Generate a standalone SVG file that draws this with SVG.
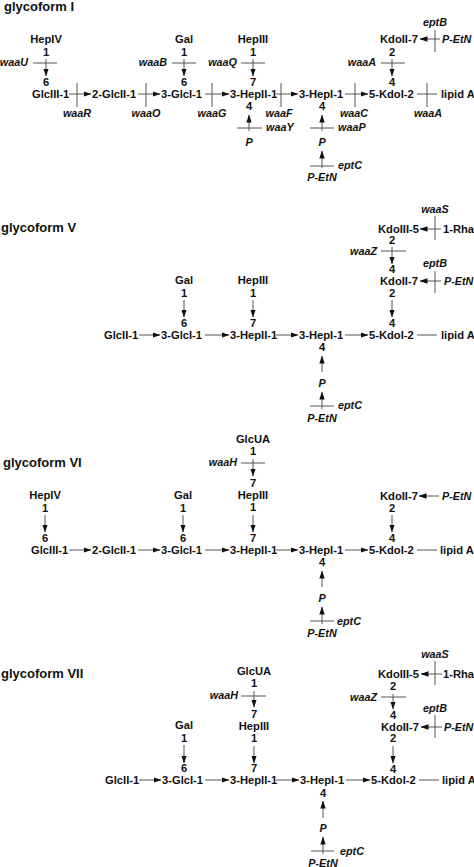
<svg xmlns="http://www.w3.org/2000/svg" width="474" height="867" viewBox="0 0 474 867">
<defs>
<style>
text{font-family:"Liberation Sans",Arial,Helvetica,sans-serif;font-weight:bold;font-size:11.2px;fill:#111}
.m{text-anchor:middle}
.e{text-anchor:end}
.i{font-style:italic;font-size:10.8px}
.ttl{font-size:13px}
line{stroke:#555;stroke-width:1}
.a{marker-end:url(#ah)}
</style>
<marker id="ah" markerWidth="8" markerHeight="6" refX="7.5" refY="3" orient="auto" markerUnits="userSpaceOnUse"><path d="M0,0.3 L8,3 L0,5.7 z" fill="#111"/></marker>
</defs>
<rect width="474" height="867" fill="#fff"/>

<!-- glycoform I -->
<g id="glycoform-I" transform="translate(0,94)">
<text class="ttl" x="4" y="-83">glycoform I</text>
<g id="I-HepIV"><text class="m" x="46" y="-51">HepIV</text><text class="m" x="46" y="-38">1</text></g>
<g id="I-GlcIII"><text class="m" x="46" y="-8">6</text><text x="32" y="4">GlcIII-1</text></g>
<g id="I-GlcII"><text x="92" y="4">2-GlcII-1</text></g>
<g id="I-Gal"><text class="m" x="184" y="-51">Gal</text><text class="m" x="184" y="-38">1</text></g>
<g id="I-GlcI"><text class="m" x="184" y="-8">6</text><text x="161" y="4">3-GlcI-1</text></g>
<g id="I-HepIII"><text class="m" x="253" y="-51">HepIII</text><text class="m" x="253" y="-38">1</text></g>
<g id="I-HepII"><text class="m" x="253" y="-8">7</text><text x="230" y="4">3-HepII-1</text><text class="m" x="249" y="16">4</text></g>
<g id="I-P1"><text class="m i" x="249" y="52">P</text></g>
<g id="I-HepI"><text x="299" y="4">3-HepI-1</text><text class="m" x="322" y="16">4</text></g>
<g id="I-P2"><text class="m i" x="322" y="52">P</text></g>
<g id="I-PEtN1"><text class="m i" x="322" y="87">P-EtN</text></g>
<g id="I-KdoI"><text class="m" x="392" y="-8">4</text><text x="369" y="4">5-KdoI-2</text></g>
<g id="I-KdoII"><text x="380" y="-51">KdoII-7</text><text class="m" x="392" y="-38">2</text></g>
<g id="I-PEtN2"><text class="i" x="442" y="-51">P-EtN</text></g>
<g id="I-lipidA"><text x="441" y="4">lipid A</text></g>
<g id="I-connectors">
<line class="a" x1="46" y1="-35" x2="46" y2="-18"/><line x1="33" y1="-31" x2="57" y2="-31"/><text class="e i" x="28" y="-28">waaU</text>
<line class="a" x1="69" y1="0" x2="91" y2="0"/><line x1="77" y1="-11" x2="77" y2="13"/><text class="m i" x="77" y="23">waaR</text>
<line class="a" x1="138" y1="0" x2="160" y2="0"/><line x1="146" y1="-11" x2="146" y2="13"/><text class="m i" x="146" y="23">waaO</text>
<line class="a" x1="184" y1="-35" x2="184" y2="-18"/><line x1="172" y1="-31" x2="196" y2="-31"/><text class="e i" x="167" y="-28">waaB</text>
<line class="a" x1="205" y1="0" x2="229" y2="0"/><line x1="212" y1="-11" x2="212" y2="13"/><text class="m i" x="212" y="23">waaG</text>
<line class="a" x1="253" y1="-35" x2="253" y2="-18"/><line x1="241" y1="-31" x2="265" y2="-31"/><text class="e i" x="237" y="-28">waaQ</text>
<line class="a" x1="249" y1="37" x2="249" y2="21"/><line x1="237" y1="34" x2="262" y2="34"/><text class="i" x="266" y="37">waaY</text>
<line class="a" x1="276" y1="0" x2="298" y2="0"/><line x1="281" y1="-11" x2="281" y2="13"/><text class="m i" x="279" y="23">waaF</text>
<line class="a" x1="322" y1="37" x2="322" y2="21"/><line x1="310" y1="34" x2="334" y2="34"/><text class="i" x="338" y="37">waaP</text>
<line class="a" x1="322" y1="74" x2="322" y2="57"/><line x1="310" y1="72" x2="334" y2="72"/><text class="i" x="338" y="75">eptC</text>
<line class="a" x1="345" y1="0" x2="368" y2="0"/><line x1="355" y1="-11" x2="355" y2="13"/><text class="m i" x="354" y="23">waaC</text>
<line class="a" x1="392" y1="-35" x2="392" y2="-18"/><line x1="381" y1="-31" x2="405" y2="-31"/><text class="e i" x="376" y="-28">waaA</text>
<line x1="417" y1="0" x2="437" y2="0"/><line x1="427" y1="-11" x2="427" y2="13"/><text class="m i" x="428" y="23">waaA</text>
<line class="a" x1="440" y1="-55" x2="420" y2="-55"/><line x1="435" y1="-64" x2="435" y2="-42"/><text class="m i" x="435" y="-68">eptB</text>
</g>
</g>

<!-- glycoform V -->
<g id="glycoform-V" transform="translate(0,335)">
<text class="ttl" x="1" y="-103">glycoform V</text>
<g id="V-GlcII"><text x="104" y="4">GlcII-1</text></g>
<g id="V-Gal"><text class="m" x="184" y="-51">Gal</text><text class="m" x="184" y="-38">1</text></g>
<g id="V-GlcI"><text class="m" x="184" y="-8">6</text><text x="161" y="4">3-GlcI-1</text></g>
<g id="V-HepIII"><text class="m" x="253" y="-51">HepIII</text><text class="m" x="253" y="-38">1</text></g>
<g id="V-HepII"><text class="m" x="253" y="-8">7</text><text x="230" y="4">3-HepII-1</text></g>
<g id="V-HepI"><text x="299" y="4">3-HepI-1</text><text class="m" x="322" y="16">4</text></g>
<g id="V-P"><text class="m i" x="322" y="52">P</text></g>
<g id="V-PEtN1"><text class="m i" x="322" y="87">P-EtN</text></g>
<g id="V-KdoI"><text class="m" x="392" y="-8">4</text><text x="369" y="4">5-KdoI-2</text></g>
<g id="V-KdoII"><text class="m" x="392" y="-62">4</text><text x="380" y="-50">KdoII-7</text><text class="m" x="392" y="-38">2</text></g>
<g id="V-KdoIII"><text x="378" y="-102">KdoIII-5</text><text class="m" x="392" y="-91">2</text></g>
<g id="V-Rha"><text x="443" y="-102">1-Rha</text></g>
<g id="V-PEtN2"><text class="i" x="444" y="-50">P-EtN</text></g>
<g id="V-lipidA"><text x="441" y="4">lipid A</text></g>
<g id="V-connectors">
<line class="a" x1="139" y1="0" x2="160" y2="0"/>
<line class="a" x1="184" y1="-35" x2="184" y2="-18"/>
<line class="a" x1="205" y1="0" x2="229" y2="0"/>
<line class="a" x1="253" y1="-35" x2="253" y2="-18"/>
<line class="a" x1="276" y1="0" x2="298" y2="0"/>
<line class="a" x1="322" y1="37" x2="322" y2="21"/>
<line class="a" x1="322" y1="74" x2="322" y2="57"/><line x1="310" y1="71" x2="334" y2="71"/><text class="i" x="338" y="74">eptC</text>
<line class="a" x1="345" y1="0" x2="368" y2="0"/>
<line x1="417" y1="0" x2="437" y2="0"/>
<line class="a" x1="392" y1="-35" x2="392" y2="-18"/>
<line class="a" x1="392" y1="-88" x2="392" y2="-71"/><line x1="381" y1="-84" x2="406" y2="-84"/><text class="e i" x="377" y="-80">waaZ</text>
<line class="a" x1="441" y1="-54" x2="420" y2="-54"/><line x1="435" y1="-64" x2="435" y2="-42"/><text class="m i" x="435" y="-68">eptB</text>
<line class="a" x1="441" y1="-106" x2="420" y2="-106"/><line x1="435" y1="-119" x2="435" y2="-95"/><text class="m i" x="435" y="-122">waaS</text>
</g>
</g>

<!-- glycoform VI -->
<g id="glycoform-VI" transform="translate(0,550)">
<text class="ttl" x="3" y="-83">glycoform VI</text>
<g id="VI-HepIV"><text class="m" x="45" y="-51">HepIV</text><text class="m" x="45" y="-38">1</text></g>
<g id="VI-GlcIII"><text class="m" x="45" y="-8">6</text><text x="31" y="4">GlcIII-1</text></g>
<g id="VI-GlcII"><text x="92" y="4">2-GlcII-1</text></g>
<g id="VI-Gal"><text class="m" x="183" y="-51">Gal</text><text class="m" x="183" y="-38">1</text></g>
<g id="VI-GlcI"><text class="m" x="183" y="-8">6</text><text x="161" y="4">3-GlcI-1</text></g>
<g id="VI-GlcUA"><text class="m" x="253" y="-107">GlcUA</text><text class="m" x="253" y="-95">1</text></g>
<g id="VI-HepIII"><text class="m" x="253" y="-63">7</text><text class="m" x="253" y="-51">HepIII</text><text class="m" x="253" y="-39">1</text></g>
<g id="VI-HepII"><text class="m" x="253" y="-8">7</text><text x="230" y="4">3-HepII-1</text></g>
<g id="VI-HepI"><text x="299" y="4">3-HepI-1</text><text class="m" x="322" y="16">4</text></g>
<g id="VI-P"><text class="m i" x="322" y="52">P</text></g>
<g id="VI-PEtN1"><text class="m i" x="322" y="87">P-EtN</text></g>
<g id="VI-KdoI"><text class="m" x="392" y="-8">4</text><text x="369" y="4">5-KdoI-2</text></g>
<g id="VI-KdoII"><text x="380" y="-50">KdoII-7</text><text class="m" x="392" y="-38">2</text></g>
<g id="VI-PEtN2"><text class="i" x="442" y="-50">P-EtN</text></g>
<g id="VI-lipidA"><text x="440" y="4">lipid A</text></g>
<g id="VI-connectors">
<line class="a" x1="45" y1="-35" x2="45" y2="-18"/>
<line class="a" x1="69" y1="0" x2="91" y2="0"/>
<line class="a" x1="138" y1="0" x2="160" y2="0"/>
<line class="a" x1="183" y1="-35" x2="183" y2="-18"/>
<line class="a" x1="205" y1="0" x2="229" y2="0"/>
<line class="a" x1="253" y1="-91" x2="253" y2="-74"/><line x1="241" y1="-87" x2="265" y2="-87"/><text class="e i" x="237" y="-84">waaH</text>
<line class="a" x1="253" y1="-35" x2="253" y2="-18"/>
<line class="a" x1="276" y1="0" x2="298" y2="0"/>
<line class="a" x1="322" y1="37" x2="322" y2="21"/>
<line class="a" x1="322" y1="74" x2="322" y2="57"/><line x1="310" y1="71" x2="334" y2="71"/><text class="i" x="337" y="75">eptC</text>
<line class="a" x1="345" y1="0" x2="368" y2="0"/>
<line x1="417" y1="0" x2="437" y2="0"/>
<line class="a" x1="392" y1="-35" x2="392" y2="-18"/>
<line class="a" x1="439" y1="-54" x2="419" y2="-54"/>
</g>
</g>

<!-- glycoform VII -->
<g id="glycoform-VII" transform="translate(0,780)">
<text class="ttl" x="1" y="-102">glycoform VII</text>
<g id="VII-GlcII"><text x="105" y="4">GlcII-1</text></g>
<g id="VII-Gal"><text class="m" x="184" y="-51">Gal</text><text class="m" x="184" y="-38">1</text></g>
<g id="VII-GlcI"><text class="m" x="184" y="-8">6</text><text x="162" y="4">3-GlcI-1</text></g>
<g id="VII-GlcUA"><text class="m" x="254" y="-105">GlcUA</text><text class="m" x="254" y="-93">1</text></g>
<g id="VII-HepIII"><text class="m" x="254" y="-62">7</text><text class="m" x="254" y="-50">HepIII</text><text class="m" x="254" y="-38">1</text></g>
<g id="VII-HepII"><text class="m" x="254" y="-8">7</text><text x="230" y="4">3-HepII-1</text></g>
<g id="VII-HepI"><text x="300" y="4">3-HepI-1</text><text class="m" x="323" y="17">4</text></g>
<g id="VII-P"><text class="m i" x="323" y="52">P</text></g>
<g id="VII-PEtN1"><text class="m i" x="323" y="87">P-EtN</text></g>
<g id="VII-KdoI"><text class="m" x="393" y="-7">4</text><text x="371" y="4">5-KdoI-2</text></g>
<g id="VII-KdoII"><text class="m" x="393" y="-61">4</text><text x="381" y="-49">KdoII-7</text><text class="m" x="393" y="-38">2</text></g>
<g id="VII-KdoIII"><text x="378" y="-102">KdoIII-5</text><text class="m" x="393" y="-90">2</text></g>
<g id="VII-Rha"><text x="443" y="-102">1-Rha</text></g>
<g id="VII-PEtN2"><text class="i" x="444" y="-49">P-EtN</text></g>
<g id="VII-lipidA"><text x="442" y="4">lipid A</text></g>
<g id="VII-connectors">
<line class="a" x1="139" y1="0" x2="161" y2="0"/>
<line class="a" x1="184" y1="-35" x2="184" y2="-17"/>
<line class="a" x1="205" y1="0" x2="229" y2="0"/>
<line class="a" x1="254" y1="-89" x2="254" y2="-73"/><line x1="241" y1="-84" x2="266" y2="-84"/><text class="e i" x="238" y="-81">waaH</text>
<line class="a" x1="254" y1="-34" x2="254" y2="-17"/>
<line class="a" x1="276" y1="0" x2="299" y2="0"/>
<line class="a" x1="323" y1="38" x2="323" y2="21"/>
<line class="a" x1="323" y1="74" x2="323" y2="57"/><line x1="311" y1="71" x2="334" y2="71"/><text class="i" x="340" y="75">eptC</text>
<line class="a" x1="346" y1="0" x2="370" y2="0"/>
<line x1="419" y1="0" x2="439" y2="0"/>
<line class="a" x1="393" y1="-34" x2="393" y2="-17"/>
<line class="a" x1="393" y1="-86" x2="393" y2="-71"/><line x1="381" y1="-83" x2="406" y2="-83"/><text class="e i" x="377" y="-79">waaZ</text>
<line class="a" x1="442" y1="-53" x2="421" y2="-53"/><line x1="435" y1="-65" x2="435" y2="-42"/><text class="m i" x="435" y="-68">eptB</text>
<line class="a" x1="442" y1="-106" x2="421" y2="-106"/><line x1="435" y1="-119" x2="435" y2="-95"/><text class="m i" x="435" y="-122">waaS</text>
</g>
</g>
</svg>
